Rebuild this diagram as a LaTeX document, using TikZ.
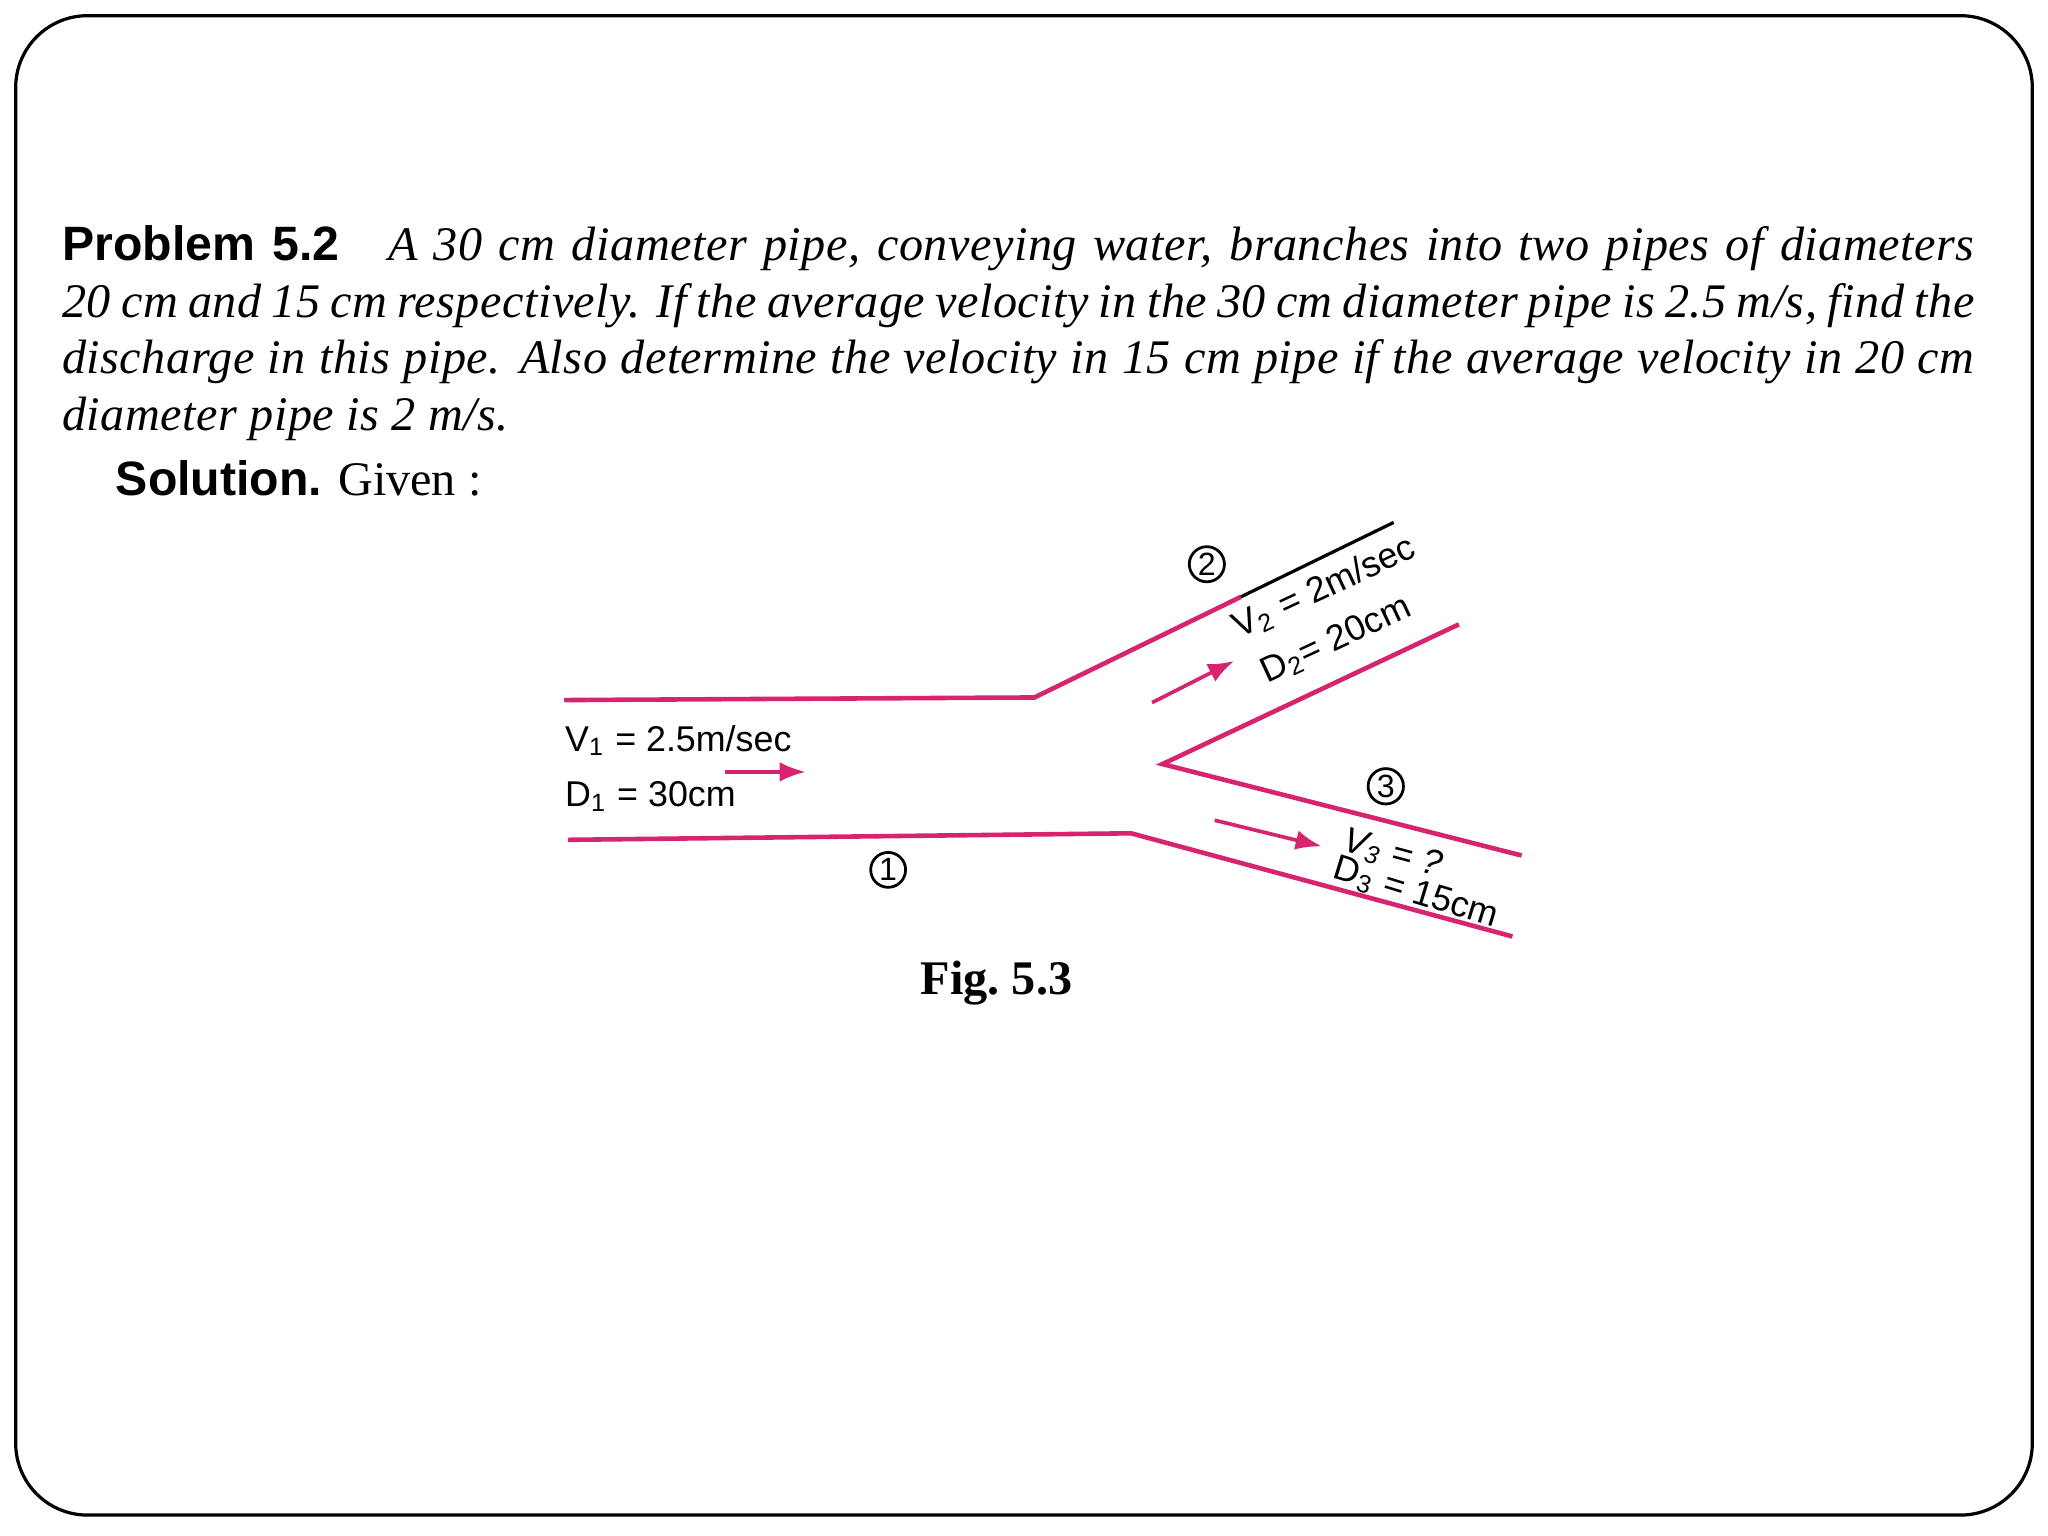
\documentclass[tikz,border=0pt]{standalone}
\usepackage{fontspec}
\setmainfont{Liberation Serif}
\setsansfont{Liberation Sans}
\usetikzlibrary{arrows.meta}
\definecolor{pk}{HTML}{D6246E}
\tikzset{pipe/.style={pk,line width=1pt},flow/.style={pk,line width=0.8pt,-{Latex[length=2mm]}},
lab/.style={font=\sffamily\fontsize{7.8}{9}\selectfont,inner sep=0pt},
circ/.style={draw,circle,inner sep=0.5pt,line width=0.6pt,font=\sffamily\fontsize{7}{8}\selectfont}}
\begin{document}
\begin{tikzpicture}[x=0.01cm,y=-0.01cm]
\useasboundingbox (0,0) rectangle (1568,1176);
\draw[line width=0.7pt,rounded corners=0.55cm] (12,12) rectangle (1556,1160);
\node[anchor=north west,inner sep=0pt,text width=14.63cm,align=justify,font=\fontsize{10.5}{12.3}\selectfont] (txt) at (47,172)
{{\sffamily\bfseries Problem 5.2}\hspace{1em}\itshape\addfontfeatures{LetterSpace=1} A 30 cm diameter pipe, conveying water, branches into two pipes of diameters\linebreak 20 cm and 15 cm respectively. If the average velocity in the 30 cm diameter pipe is 2.5 m/s, find the\linebreak discharge in this pipe. Also determine the velocity in 15 cm pipe if the average velocity in 20 cm\linebreak diameter pipe is 2 m/s.};
\node[anchor=west,inner sep=0pt,font=\fontsize{10.5}{13}\selectfont] (sol) at (88,366) {{\sffamily\bfseries Solution.} Given :};
% pipes
\draw[pipe] (432,536) -- (792,534) -- (950,457);
\draw[line width=0.7pt] (950,457) -- (1067,400);
\draw[pipe] (1117,478) -- (890,585) -- (1165,655);
\draw[pipe] (435,643) -- (866,638) -- (1158,717);
% arrows
\coordinate (a1) at (555,591); \coordinate (b1) at (617,591);
\coordinate (a2) at (882,538); \coordinate (b2) at (945,506);
\coordinate (a3) at (930,628); \coordinate (b3) at (1012,648);
\draw[flow] (a1) -- (b1);
\draw[flow] (a2) -- (b2);
\draw[flow] (a3) -- (b3);
% labels
\node[lab,anchor=west] (v1) at (432,567) {V\textsubscript{1} = 2.5m/sec};
\node[lab,anchor=west] (d1) at (432,610) {D\textsubscript{1} = 30cm};
\node[circ] (c1) at (680,666) {1};
\node[circ] (c2) at (924,432) {2};
\node[circ] (c3) at (1061,602) {3};
\node[lab,rotate=25] (v2) at (1014,450) {V\textsubscript{2} = 2m/sec};
\node[lab,rotate=25] (d2) at (1023,490) {D\textsubscript{2}= 20cm};
\node[lab,rotate=-15] (v3) at (1066,654) {\itshape V\textsubscript{3} = ?};
\node[lab,rotate=-17] (d3) at (1084,684) {D\textsubscript{3} = 15cm};
\node[font=\bfseries\fontsize{10.5}{13}\selectfont] (fig) at (763,753) {Fig.\ 5.3};
\end{tikzpicture}
\end{document}
